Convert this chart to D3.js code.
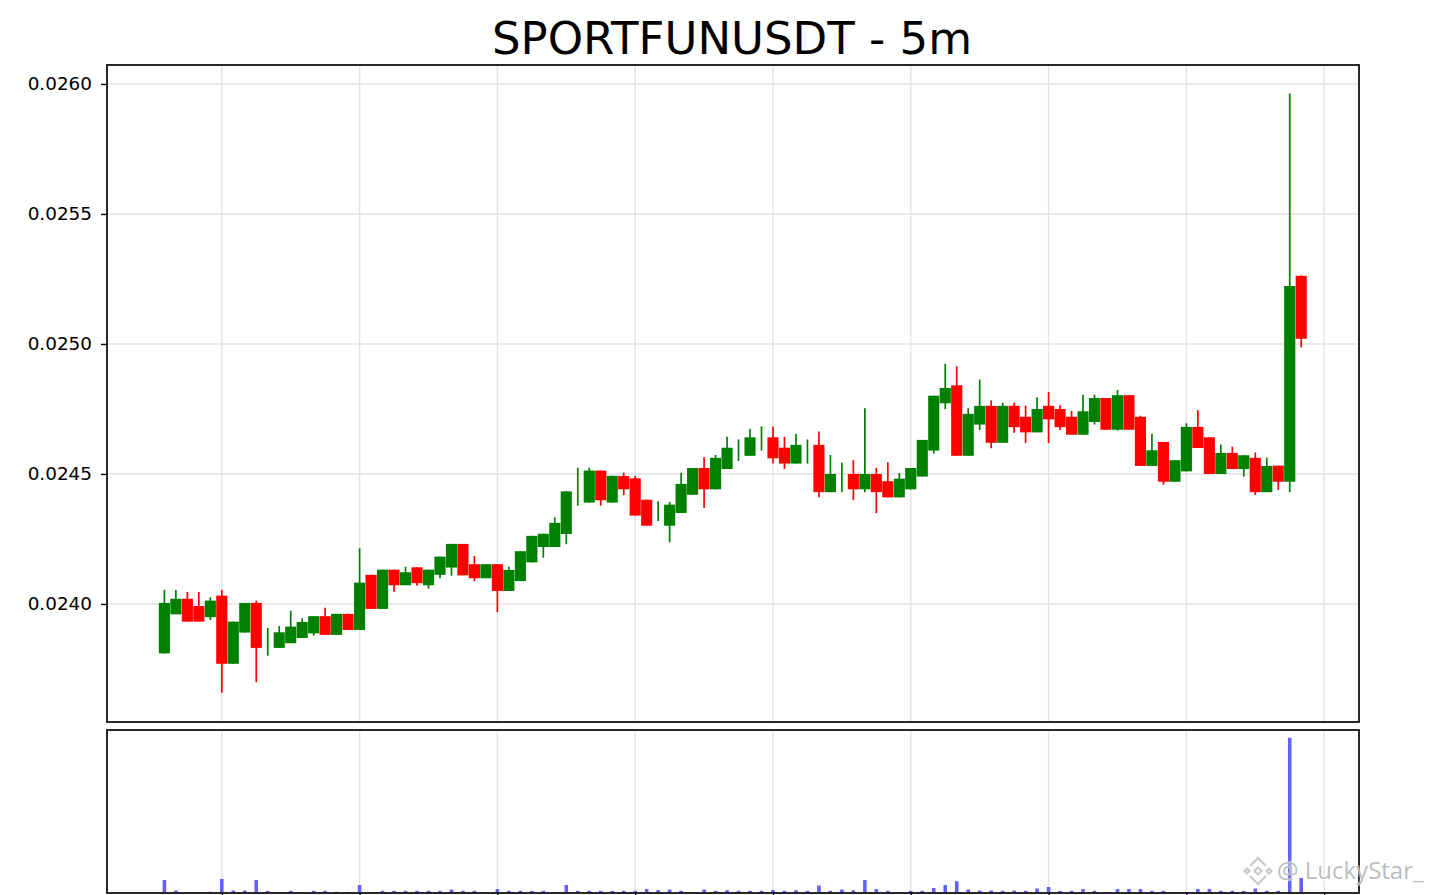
<!DOCTYPE html>
<html lang="en">
<head>
    <meta charset="UTF-8">
    <title>SPORTFUNUSDT - 5m</title>
    <script src="https://cdn.jsdelivr.net/npm/d3@7"></script>
    <style>
        html, body { margin: 0; padding: 0; background: white; overflow: hidden; }
        svg { display: block; font-family: "DejaVu Sans", sans-serif; }
    </style>
</head>
<body>
    <script>
        const title = "SPORTFUNUSDT - 5m";
        const watermark = "@ LuckyStar_";

        const opens = [
            0.02381, 0.02396, 0.02402, 0.023992, 0.023949, 0.024032, 0.02377, 0.02389, 0.024004, 0.023862,
            0.023831, 0.023849, 0.023869, 0.023887, 0.023953, 0.023881, 0.023962, 0.0239, 0.024112, 0.023981,
            0.024132, 0.024072, 0.024141, 0.024072, 0.024112, 0.02414, 0.024231, 0.024153, 0.024099, 0.024153,
            0.02405, 0.024088, 0.02416, 0.024219, 0.024219, 0.024269, 0.02445, 0.02439, 0.024513, 0.02439,
            0.024492, 0.024483, 0.024401, 0.02436, 0.024301, 0.02435, 0.02442, 0.024523, 0.024441, 0.024519,
            0.02459, 0.02457, 0.02463, 0.024641, 0.024601, 0.02454, 0.02458, 0.024612, 0.02443, 0.02449,
            0.0245, 0.024441, 0.0245, 0.024472, 0.02441, 0.024441, 0.02449, 0.02459, 0.024772, 0.024841,
            0.02457, 0.02469, 0.024762, 0.02462, 0.024762, 0.02472, 0.02466, 0.024762, 0.02475, 0.02472,
            0.024651, 0.0247, 0.024792, 0.02467, 0.024803, 0.02472, 0.024531, 0.024623, 0.02447, 0.02451,
            0.024681, 0.024641, 0.0245, 0.024581, 0.024519, 0.024562, 0.02443, 0.024532, 0.02447, 0.025262
        ];
        const closes = [
            0.024004, 0.02402, 0.023932, 0.023932, 0.024013, 0.02377, 0.023932, 0.024004, 0.023831, 0.023862,
            0.023891, 0.023913, 0.023931, 0.023953, 0.023881, 0.023962, 0.0239, 0.024082, 0.023981, 0.024132,
            0.024072, 0.024122, 0.02408, 0.024132, 0.024182, 0.024231, 0.02411, 0.024099, 0.024153, 0.02405,
            0.024131, 0.024203, 0.024262, 0.02427, 0.024312, 0.024433, 0.02445, 0.024513, 0.024399, 0.024493,
            0.024441, 0.02434, 0.024301, 0.02436, 0.024382, 0.024462, 0.024523, 0.024441, 0.024562, 0.024601,
            0.02459, 0.024641, 0.02463, 0.02456, 0.02454, 0.024612, 0.02458, 0.02443, 0.0245, 0.02449,
            0.024441, 0.0245, 0.02443, 0.02441, 0.024482, 0.024523, 0.024631, 0.024801, 0.024831, 0.02457,
            0.024731, 0.024762, 0.02462, 0.024762, 0.02468, 0.02466, 0.02475, 0.02471, 0.02468, 0.024651,
            0.024741, 0.024792, 0.02467, 0.024803, 0.02467, 0.024531, 0.024591, 0.02447, 0.024553, 0.024681,
            0.0246, 0.0245, 0.024581, 0.024519, 0.024572, 0.02443, 0.024531, 0.02447, 0.025223, 0.02502
        ];
        const highs = [
            0.024054, 0.024054, 0.024046, 0.024046, 0.024026, 0.024054, 0.023932, 0.024004, 0.024013, 0.023908,
            0.023915, 0.023974, 0.023945, 0.023953, 0.023985, 0.023962, 0.023962, 0.024214, 0.024112, 0.024132,
            0.024132, 0.024143, 0.024141, 0.024132, 0.024182, 0.024231, 0.024231, 0.024185, 0.024153, 0.024153,
            0.024143, 0.024203, 0.024262, 0.02427, 0.024333, 0.024433, 0.024524, 0.024524, 0.024513, 0.024493,
            0.024505, 0.024493, 0.024401, 0.024395, 0.024393, 0.024505, 0.024523, 0.024564, 0.024573, 0.024643,
            0.024633, 0.024673, 0.024683, 0.024683, 0.024643, 0.024654, 0.024633, 0.024663, 0.024573, 0.024543,
            0.024553, 0.024753, 0.024524, 0.024545, 0.024504, 0.024523, 0.024631, 0.024801, 0.024924, 0.024914,
            0.024753, 0.024863, 0.024783, 0.024774, 0.024774, 0.024763, 0.024795, 0.024815, 0.024764, 0.024743,
            0.024805, 0.024805, 0.024792, 0.024823, 0.024803, 0.024724, 0.024655, 0.024623, 0.024553, 0.024695,
            0.024745, 0.024641, 0.024613, 0.024605, 0.024572, 0.024583, 0.024563, 0.024532, 0.025963, 0.025264
        ];
        const lows = [
            0.02381, 0.02396, 0.023932, 0.023932, 0.023938, 0.023659, 0.02377, 0.02389, 0.023699, 0.023801,
            0.023831, 0.023849, 0.023869, 0.023878, 0.023881, 0.023881, 0.0239, 0.0239, 0.023981, 0.023981,
            0.024047, 0.024072, 0.02407, 0.024059, 0.024099, 0.024109, 0.02411, 0.024088, 0.024099, 0.023968,
            0.02405, 0.024088, 0.02416, 0.024178, 0.024219, 0.02423, 0.024378, 0.02439, 0.024378, 0.02439,
            0.024418, 0.02434, 0.024301, 0.024319, 0.024237, 0.02435, 0.02442, 0.024369, 0.024441, 0.024519,
            0.02455, 0.02457, 0.02459, 0.02454, 0.024519, 0.02454, 0.02454, 0.02441, 0.02443, 0.02443,
            0.024399, 0.02443, 0.024349, 0.02441, 0.02441, 0.024441, 0.02449, 0.024578, 0.024749, 0.02457,
            0.02457, 0.024669, 0.024599, 0.02462, 0.024659, 0.024619, 0.02466, 0.024619, 0.024669, 0.024651,
            0.024651, 0.02469, 0.02467, 0.024667, 0.02467, 0.024531, 0.024531, 0.024459, 0.02447, 0.02451,
            0.0246, 0.0245, 0.0245, 0.024519, 0.02449, 0.024419, 0.02443, 0.024438, 0.02443, 0.024987
        ];
        // volume, relative units (the spike candle is the max)
        const volumes = [
            13, 2.5, 1, 1, 1.2, 14, 2.5, 2.5, 13, 2.2,
            1, 2.2, 1, 2.2, 2.2, 1.2, 1, 8, 1, 2.2,
            2.2, 2.2, 2.2, 2.2, 2.2, 3.5, 2.2, 2.2, 1, 4,
            2.2, 2.2, 2.2, 2.2, 1, 8, 2.2, 2.2, 2.2, 2.2,
            2.2, 2.2, 4, 3, 3.5, 2.2, 1, 3.5, 2.2, 2.8,
            2.2, 2.2, 2.2, 3, 2.2, 2.8, 2.2, 7.5, 2.2, 3.5,
            2.8, 13, 4, 2.2, 1, 2.2, 2.2, 5, 8, 11.7,
            3.5, 2.5, 2.5, 2.2, 2.5, 2.2, 4.5, 6, 2.2, 2.2,
            4, 2.2, 1, 4, 4, 4, 2.2, 2.2, 1, 1,
            4, 4, 2.2, 2.2, 2.2, 4.5, 2.2, 2.2, 155, 15
        ];
        const priceTicks = [0.024, 0.0245, 0.025, 0.0255, 0.026];
        const timeTicks = [5, 17, 29, 41, 53, 65, 77, 89, 101];

        const width = 1432;
        const height = 895;
        const left = 107, right = 1359;
        const priceTop = 65, priceBottom = 722;
        const volTop = 730, volBottom = 893;

        const svg = d3.select("body")
            .append("svg")
            .attr("width", width)
            .attr("height", height);

        const x = d3.scaleLinear().domain([-4.98, 104.05]).range([left + 0.2, right + 0.2]);
        // 0.0240 sits at 604px and 0.0260 at 84px
        const y = d3.scaleLinear().domain([0.023546, 0.026073]).range([priceBottom, priceTop]);
        const yVol = d3.scaleLinear().domain([0, d3.max(volumes) * 1.05]).range([volBottom, volTop]);

        const gridColor = "#e3e3e3";

        function verticalGrid(g, top, bottom) {
            g.selectAll("line.vgrid")
                .data(timeTicks)
                .enter().append("line")
                .attr("class", "vgrid")
                .attr("x1", d => x(d)).attr("x2", d => x(d))
                .attr("y1", top).attr("y2", bottom)
                .attr("stroke", gridColor)
                .attr("stroke-width", 1.4);
        }

        // Price panel
        const pricePanel = svg.append("g");
        verticalGrid(pricePanel, priceTop, priceBottom);
        pricePanel.selectAll("line.hgrid")
            .data(priceTicks)
            .enter().append("line")
            .attr("class", "hgrid")
            .attr("x1", left).attr("x2", right)
            .attr("y1", d => y(d)).attr("y2", d => y(d))
            .attr("stroke", gridColor)
            .attr("stroke-width", 1.4);

        const idx = d3.range(opens.length);
        const color = i => closes[i] >= opens[i] ? "#008000" : "#ff0000";
        const bodyWidth = x(0.97) - x(0);

        pricePanel.selectAll("line.wick")
            .data(idx)
            .enter().append("line")
            .attr("class", "wick")
            .attr("x1", i => x(i)).attr("x2", i => x(i))
            .attr("y1", i => y(highs[i])).attr("y2", i => y(lows[i]))
            .attr("stroke", color)
            .attr("stroke-width", 1.7);

        pricePanel.selectAll("rect.body")
            .data(idx.filter(i => opens[i] !== closes[i]))
            .enter().append("rect")
            .attr("class", "body")
            .attr("x", i => x(i) - bodyWidth / 2)
            .attr("width", bodyWidth)
            .attr("y", i => y(Math.max(opens[i], closes[i])))
            .attr("height", i => Math.abs(y(opens[i]) - y(closes[i])))
            .attr("fill", color);

        const yAxis = d3.axisLeft(y)
            .tickValues(priceTicks)
            .tickFormat(d3.format(".4f"))
            .tickSize(6)
            .tickPadding(9);
        const yAxisG = svg.append("g")
            .attr("transform", `translate(${left},0)`)
            .call(yAxis);
        yAxisG.select(".domain").remove();
        yAxisG.selectAll("text")
            .attr("font-family", '"DejaVu Sans", sans-serif')
            .attr("font-size", 18.4)
            .attr("fill", "#000");
        yAxisG.selectAll("line").attr("stroke", "#000").attr("stroke-width", 1.4);

        svg.append("rect")
            .attr("x", left).attr("y", priceTop)
            .attr("width", right - left).attr("height", priceBottom - priceTop)
            .attr("fill", "none").attr("stroke", "#111").attr("stroke-width", 1.8);

        // Volume panel
        const volPanel = svg.append("g");
        verticalGrid(volPanel, volTop, volBottom);
        const volWidth = x(0.31) - x(0);
        volPanel.selectAll("rect.vol")
            .data(idx)
            .enter().append("rect")
            .attr("class", "vol")
            .attr("x", i => x(i) - volWidth / 2)
            .attr("width", volWidth)
            .attr("y", i => yVol(volumes[i]))
            .attr("height", i => volBottom - yVol(volumes[i]))
            .attr("fill", "#6262f8");

        const xAxis = d3.axisBottom(x).tickValues(timeTicks).tickFormat("").tickSize(6);
        const xAxisG = svg.append("g")
            .attr("transform", `translate(0,${volBottom})`)
            .call(xAxis);
        xAxisG.select(".domain").remove();
        xAxisG.selectAll("line").attr("stroke", "#000").attr("stroke-width", 1.4);

        svg.append("rect")
            .attr("x", left).attr("y", volTop)
            .attr("width", right - left).attr("height", volBottom - volTop)
            .attr("fill", "none").attr("stroke", "#111").attr("stroke-width", 1.8);

        // Title
        svg.append("text")
            .attr("x", 732)
            .attr("y", 54)
            .attr("text-anchor", "middle")
            .attr("font-size", 45)
            .attr("fill", "#000")
            .text(title);

        // Watermark, logo is a ring of small diamonds round a centre one
        const logo = svg.append("g")
            .attr("transform", "translate(1258,871)")
            .attr("fill", "none")
            .attr("stroke", "#c4c4c4")
            .attr("stroke-width", 2.2)
            .attr("opacity", 0.9);
        const diamond = (cx, cy, r) => `M${cx},${cy - r}L${cx + r},${cy}L${cx},${cy + r}L${cx - r},${cy}Z`;
        logo.append("path").attr("d", diamond(0, 0, 3.5));
        logo.append("path").attr("d", "M-8,-5L0,-13L8,-5");
        logo.append("path").attr("d", "M-8,5L0,13L8,5");
        logo.append("path").attr("d", diamond(-11, 0, 2.5));
        logo.append("path").attr("d", diamond(11, 0, 2.5));

        svg.append("text")
            .attr("x", 1277)
            .attr("y", 879)
            .attr("font-family", '"Open Sans", sans-serif')
            .attr("font-size", 24)
            .attr("fill", "#b0b0b0")
            .attr("fill-opacity", 0.85)
            .attr("stroke", "#ffffff")
            .attr("stroke-opacity", 0.5)
            .attr("stroke-width", 2)
            .attr("paint-order", "stroke")
            .text(watermark);
    </script>
</body>
</html>
